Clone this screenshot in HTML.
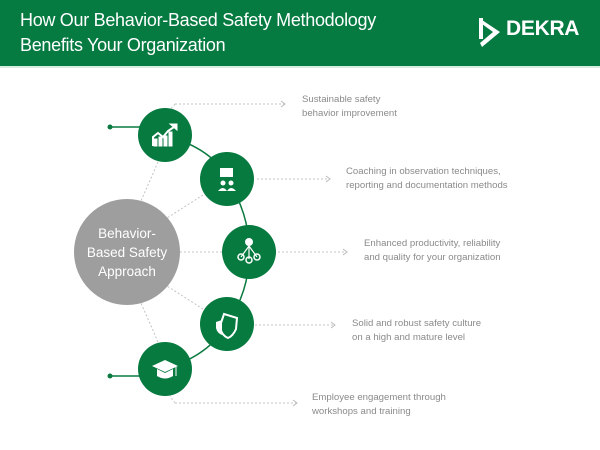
<!DOCTYPE html>
<html><head><style>
body{margin:0;width:600px;height:450px;background:#fff;overflow:hidden;font-family:"Liberation Sans",sans-serif;position:relative}
.hd{position:absolute;left:0;top:0;width:600px;height:66px;background:#057a41;border-bottom:2px solid #d8ece0}
.t{position:absolute;left:20px;top:8px;color:#fff;font-size:18px;line-height:25px;letter-spacing:-0.3px}
.lg{position:absolute;left:506px;top:17px;color:#fff;font-size:21px;font-weight:bold;letter-spacing:-0.3px}
.lb{position:absolute;color:#8a8a8a;font-size:9.6px;line-height:14px}
</style></head><body>
<div class="hd"><div class="t">How Our Behavior-Based Safety Methodology<br>Benefits Your Organization</div>
<svg style="position:absolute;left:476px;top:15px" width="30" height="36"><path d="M3 3 L24 17 L6 32 L4 28 L17 17 L6 9 Z" fill="#fff"/><path d="M3 3 L7 3 L7 24 L3 24Z" fill="#fff"/></svg>
<div class="lg">DEKRA</div></div>
<svg style="position:absolute;left:0;top:0" width="600" height="450">
<g stroke="#c4c4c4" stroke-width="1" stroke-dasharray="2,2" fill="none">
<line x1="175" y1="104" x2="285" y2="104"/><line x1="175" y1="104" x2="170" y2="110"/>
<line x1="257" y1="179" x2="330" y2="179"/>
<line x1="180" y1="252" x2="222" y2="252"/><line x1="278" y1="252" x2="347" y2="252"/>
<line x1="255" y1="325" x2="335" y2="325"/>
<line x1="175" y1="403" x2="297" y2="403"/><line x1="175" y1="403" x2="170" y2="396"/>
<line x1="158" y1="162" x2="141" y2="201"/><line x1="203" y1="195" x2="167" y2="218"/>
<line x1="203" y1="309" x2="167" y2="286"/><line x1="158" y1="342" x2="141" y2="303"/>
</g>
<g stroke="#bbb" fill="none" stroke-width="1">
<polyline points="281,101 285,104 281,107"/><polyline points="326,176 330,179 326,182"/>
<polyline points="343,249 347,252 343,255"/><polyline points="331,322 335,325 331,328"/>
<polyline points="293,400 297,403 293,406"/></g>
<path d="M165 135 Q215 150 227 179 Q250 215 249 252 Q250 290 227 324 Q210 355 165 369" stroke="#0a7a40" stroke-width="1.5" fill="none"/>
<line x1="110" y1="127" x2="140" y2="127" stroke="#0a7a40" stroke-width="1.5"/><circle cx="110" cy="127" r="2.5" fill="#0a7a40"/>
<line x1="110" y1="376" x2="140" y2="376" stroke="#0a7a40" stroke-width="1.5"/><circle cx="110" cy="376" r="2.5" fill="#0a7a40"/>
<circle cx="127" cy="252" r="53" fill="#9e9e9e"/>
<text fill="#fff" font-size="13.5" text-anchor="middle" font-family="Liberation Sans,sans-serif"><tspan x="127" y="238">Behavior-</tspan><tspan x="127" y="257">Based Safety</tspan><tspan x="127" y="276">Approach</tspan></text>
<g fill="#067a3f"><circle cx="165" cy="135" r="27"/><circle cx="227" cy="179" r="27"/><circle cx="249" cy="252" r="27"/><circle cx="227" cy="324" r="27"/><circle cx="165" cy="369" r="27"/></g>
<g fill="#fff" stroke="#fff">
<path d="M153 146 L153 137 L158 133 L163 137 L168 131 L174 127" fill="none" stroke-width="2"/><rect x="154" y="139" width="3" height="7"/><rect x="159" y="137" width="3" height="9"/><rect x="164" y="136" width="3" height="10"/><rect x="169" y="132" width="3" height="14"/><path d="M170 124 L177 124 L177 130Z"/>
<rect x="220" y="168" width="13" height="9" stroke="none"/><circle cx="223" cy="183" r="2.5" stroke="none"/><circle cx="231" cy="183" r="2.5" stroke="none"/><path d="M218 191 Q223 185 227 191Z M227 191 Q231 185 236 191Z" stroke="none"/>
<circle cx="249" cy="242" r="4" stroke="none"/><path d="M249 246 L241 257 M249 246 L249 259 M249 246 L257 257" fill="none" stroke-width="1.2"/><circle cx="241" cy="257" r="3" fill="none" stroke-width="1.5"/><circle cx="249" cy="260" r="3" fill="none" stroke-width="1.5"/><circle cx="257" cy="257" r="3" fill="none" stroke-width="1.5"/>
<path d="M224 314 L237 318 L236 329 Q233 336 228 338 Q221 335 220 326 Z" fill="none" stroke-width="2"/><path d="M216 322 L222 320 L222 335 Q217 333 216 328Z" stroke="none"/>
<path d="M152 366 L165 360 L178 366 L165 372Z" stroke="none"/><path d="M157 369 L157 376 Q165 381 173 376 L173 369 L165 373Z" stroke="none"/><line x1="176" y1="367" x2="176" y2="376" stroke-width="1"/>
</g></svg>
<div class="lb" style="left:302px;top:93px">Sustainable safety<br>behavior improvement</div>
<div class="lb" style="left:346px;top:165px">Coaching in observation techniques,<br>reporting and documentation methods</div>
<div class="lb" style="left:364px;top:237px">Enhanced productivity, reliability<br>and quality for your organization</div>
<div class="lb" style="left:352px;top:317px">Solid and robust safety culture<br>on a high and mature level</div>
<div class="lb" style="left:312px;top:391px">Employee engagement through<br>workshops and training</div>
</body></html>
